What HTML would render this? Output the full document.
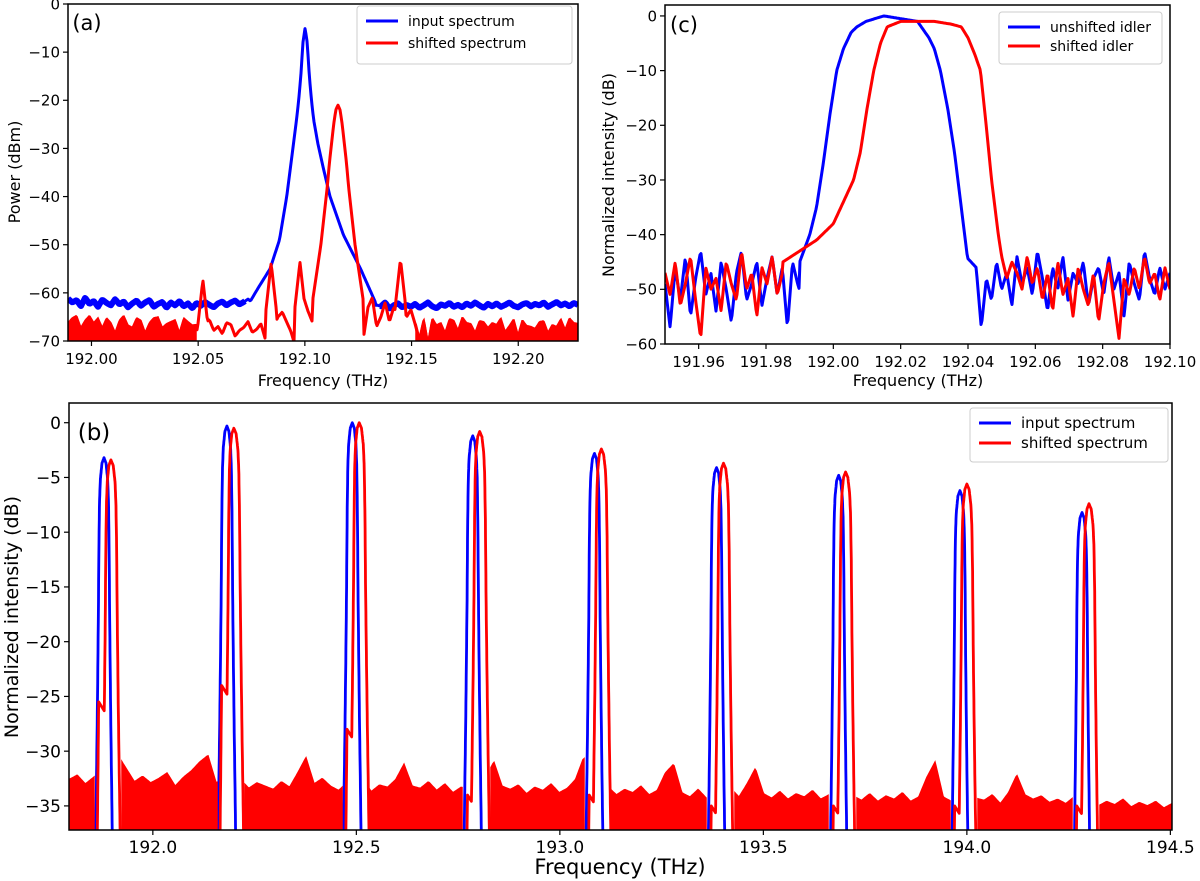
<!DOCTYPE html>
<html><head><meta charset="utf-8">
<style>
html,body{margin:0;padding:0;background:#fff;overflow:hidden;width:1200px;height:881px;}
svg{display:block;font-family:"DejaVu Sans","Liberation Sans",sans-serif;}
</style></head>
<body>
<svg id="fig" width="1200" height="881" viewBox="0 0 1200 881" xmlns="http://www.w3.org/2000/svg">
<rect width="1200" height="881" fill="#fff"/>
<defs>
<clipPath id="clipA"><rect x="68" y="4" width="510" height="337"/></clipPath>
<clipPath id="clipC"><rect x="665" y="5" width="505" height="339"/></clipPath>
<clipPath id="clipB"><rect x="69" y="403" width="1103" height="427"/></clipPath>
</defs>
<g id="panelA"></g>
<g id="panelC"></g>
<g id="panelB"></g>
</svg>
<script>
// ---------- Panel (a) data ----------
const aTicksX = [192.00, 192.05, 192.10, 192.15, 192.20];
const aTickLabelsX = ["192.00","192.05","192.10","192.15","192.20"];
const aTicksY = [0,-10,-20,-30,-40,-50,-60,-70];
const aBlueCenter = 192.1001;
const aBlueOffL = [0,0.001,0.002,0.003,0.004,0.006,0.0086,0.012,0.0164,0.022,0.026];
const aBlueProfL = [-5,-8,-15,-20,-24,-31,-40,-49,-55,-59,-62];
const aBlueOffR = [0,0.001,0.002,0.003,0.004,0.006,0.0085,0.0117,0.018,0.026,0.033];
const aBlueProfR = [-5,-8,-15,-20,-24,-29,-34,-40,-48,-55,-62];
const aRedCenter = 192.1155;
const aRedOff = [0,0.001,0.002,0.003,0.004,0.005,0.006,0.007,0.008,0.009,0.010,0.012];
const aRedProf = [-21,-22,-25,-29,-33,-38,-42,-46,-50,-53,-56,-62];
const aSideF = [192.0522,192.0842,192.0977,192.1448];
const aSideV = [-57.3,-53.8,-53.6,-53];
const aBlueNoise = [-61.2,-62.0,-61.5,-62.8,-61.0,-62.3,-61.7,-62.9,-61.4,-62.1,
-62.6,-61.3,-62.4,-61.8,-63.0,-62.2,-61.6,-62.7,-62.0,-61.5,
-62.9,-62.3,-61.9,-63.1,-62.0,-62.6,-61.7,-62.8,-62.2,-63.2,
-62.1,-62.7,-61.9,-62.5,-63.0,-62.2,-61.8,-62.6,-62.0,-61.6,
-62.4,-61.9,-61.3,-62.0,-61.5,-61.0,-60.8,-61.4,-61.0,-60.6,
-60.0,-59.5,-60.2,-59.0,-58.5,-59.2,-58.0,-57.5,-58.2,-59.5,
-60.5,-61.5,-62.0,-62.6,-61.9,-62.8,-62.3,-63.0,-62.4,-62.9,
-62.1,-63.2,-62.5,-62.8,-62.0,-63.3,-62.6,-62.2,-63.0,-62.5,
-62.9,-62.3,-63.1,-62.6,-62.0,-62.8,-63.2,-62.4,-62.7,-62.1,
-62.9,-62.5,-63.0,-62.2,-62.7,-62.0,-62.6,-63.1,-62.3,-62.8,
-62.2,-62.9,-62.5,-62.0,-62.7,-63.0,-62.4,-62.1,-62.8,-62.3,
-62.6,-62.0,-62.9,-62.4,-61.9,-62.6,-62.2,-62.8,-62.1,-62.5];
const aRedNoise = [-67,-66,-65.5,-68,-66.5,-65.5,-67,-66,-68,-66,
-67,-69,-66.5,-65.5,-67.5,-68,-66,-66.5,-69,-67,
-66,-65.8,-68,-67.2,-66.8,-66.4,-69,-66,-66.8,-67.5,
-67.4,-70,-66.2,-65.6,-67.8,-67,-68.5,-66.2,-66.6,-69,
-67.8,-67.2,-66,-68.2,-67.6,-66.4,-69.5,-66.6,-67,-65,
-64,-66,-68,-71,-63.5,-61,-63.8,-66,-69,-62.5,
-61.5,-64,-70,-63,-60.5,-65,-71,-62,-66.5,-69,
-63,-61,-67,-65,-62,-66,-63,-64.5,-62,-65,
-63.5,-66.5,-70,-66,-71,-66,-67.5,-67,-69,-66.2,
-66.5,-68.5,-65.8,-67,-67.2,-69,-66.6,-66.8,-68,-67,
-67.4,-66,-68.8,-67.6,-66.2,-69.5,-66.4,-67.6,-67.8,-68.2,
-66.8,-66.6,-69,-67.4,-67.8,-66.2,-68.4,-66,-67,-67.2];

// ---------- Panel (c) data ----------
const cTicksX = [191.96,191.98,192.00,192.02,192.04,192.06,192.08,192.10];
const cTickLabelsX = ["191.96","191.98","192.00","192.02","192.04","192.06","192.08","192.10"];
const cTicksY = [0,-10,-20,-30,-40,-50,-60];
const cBlueF = [191.990,191.993,191.995,191.997,191.999,192.001,192.003,192.0053,192.007,192.0097,192.015,192.020,192.025,192.0284,192.030,192.0318,192.034,192.036,192.037,192.039,192.040,192.041];
const cBlueV = [-45,-40,-35,-27,-18,-10,-6,-3,-2,-1,0,-0.5,-1,-4,-6,-10,-17,-25,-30,-40,-45,-50];
const cRedF = [191.985,191.990,191.995,192.000,192.003,192.006,192.008,192.010,192.012,192.014,192.016,192.020,192.025,192.030,192.035,192.038,192.040,192.042,192.0437,192.0454,192.047,192.049,192.051];
const cRedV = [-45,-43,-41,-38,-34,-30,-25,-17,-10,-5,-2,-1,-1,-1,-1.5,-2,-4,-7,-10,-20,-30,-40,-48];
const cBlueNoise = [-49,-57,-46,-52,-44,-55,-48,-43,-51,-47,
-54,-45,-50,-56,-47,-43,-52,-49,-45,-53,
-48,-44,-51,-46,-57,-45,-49,-52,-44,-50,
-47,-53,-45,-48,-43,-51,-46,-49,-47,-45,
-46,-45,-44,-45,-44,-45,-44,-45,-44,-46,
-46,-45,-44,-45,-46,-45,-44,-46,-45,-44,
-45,-46,-57,-48,-52,-45,-50,-47,-53,-44,
-49,-46,-51,-43,-48,-54,-46,-50,-44,-52,
-47,-49,-45,-53,-48,-46,-51,-44,-50,-47,
-55,-45,-49,-52,-43,-48,-51,-46,-50,-47];
const cRedNoise = [-47,-51,-45,-53,-49,-44,-52,-59,-46,-50,
-48,-54,-45,-49,-52,-43,-50,-47,-55,-46,
-49,-44,-51,-47,-53,-45,-50,-48,-43,-52,
-46,-49,-44,-47,-45,-43,-46,-44,-45,-44,
-45,-44,-45,-44,-45,-44,-45,-44,-45,-44,
-45,-44,-45,-44,-45,-44,-45,-44,-45,-44,
-45,-44,-45,-44,-45,-46,-44,-48,-45,-47,
-50,-44,-49,-46,-52,-47,-54,-45,-51,-48,
-55,-46,-50,-53,-47,-56,-49,-45,-52,-59,
-48,-51,-46,-50,-44,-49,-47,-52,-46,-50];

// ---------- Panel (b) data ----------
const bTicksX = [192.0,192.5,193.0,193.5,194.0,194.5];
const bTickLabelsX = ["192.0","192.5","193.0","193.5","194.0","194.5"];
const bTicksY = [0,-5,-10,-15,-20,-25,-30,-35];
const bCenters = [191.880,192.182,192.490,192.786,193.085,193.385,193.685,193.983,194.283];
const bBluePeaks = [-3.2,-0.3,0,-1.2,-2.8,-4.1,-4.8,-6.2,-8.2];
const bRedPeaks = [-3.4,-0.5,0,-0.8,-2.4,-3.7,-4.5,-5.6,-7.4];
const bShift = 0.017;
const bShoulder = [-25.5,-24,-28,-34,-34,-35,-35,-35,-35];
const bPeakOff = [0,0.005,0.009,0.011,0.0125,0.014,0.016,0.018,0.021,0.024];
const bPeakDrop = [0,0.5,2,4,8,15,22,28,36,45];
const bRedNoise = [-32.6,-32.2,-33.0,-32.4,-31.9,-30.9,-30.4,-31.6,-32.8,-32.3,
-32.9,-32.5,-32.0,-33.2,-32.4,-31.8,-31.0,-30.4,-32.9,-32.4,
-33.3,-32.6,-33.4,-32.9,-33.2,-33.5,-32.8,-33.3,-32.0,-30.6,
-33.0,-32.5,-33.2,-33.6,-32.9,-33.4,-32.7,-33.7,-33.1,-33.3,
-32.6,-31.2,-33.2,-33.4,-32.8,-33.6,-33.0,-33.8,-33.3,-33.5,
-32.9,-32.4,-31.0,-33.2,-33.5,-33.1,-33.9,-33.3,-33.6,-33.0,
-33.8,-33.4,-32.6,-30.6,-33.6,-33.9,-33.3,-34.0,-33.5,-33.8,
-33.2,-34.0,-33.6,-32.0,-31.2,-33.8,-34.2,-33.5,-34.3,-33.7,
-34.0,-33.4,-34.2,-33.0,-31.6,-33.9,-34.3,-33.7,-34.4,-33.9,
-34.2,-33.6,-34.4,-34.0,-32.8,-31.8,-34.1,-34.5,-33.9,-34.6,
-34.1,-34.4,-33.8,-34.6,-34.2,-32.4,-31.0,-34.2,-34.6,-34.0,
-34.7,-34.3,-34.5,-34.0,-34.8,-33.8,-32.2,-34.0,-34.4,-34.1,
-34.7,-34.4,-34.8,-34.2,-34.9,-34.5,-35.0,-34.6,-34.9,-34.4,
-35.1,-34.7,-35.0,-34.6,-35.2,-34.8];

const NS = "http://www.w3.org/2000/svg";
function mk(tag, attrs, parent){ const e=document.createElementNS(NS,tag); for(const k in attrs) e.setAttribute(k,attrs[k]); if(parent) parent.appendChild(e); return e; }
function lin(xs, ys, x){
  if(x<=xs[0]) return ys[0]; if(x>=xs[xs.length-1]) return ys[ys.length-1];
  for(let i=1;i<xs.length;i++) if(x<=xs[i]){ const t=(x-xs[i-1])/(xs[i]-xs[i-1]); return ys[i-1]+t*(ys[i]-ys[i-1]); }
}
function noiseAt(arr, f0, f1, f){
  const p=(f-f0)/(f1-f0)*(arr.length-1); const i=Math.floor(p), t=p-i;
  const a=arr[Math.max(0,Math.min(arr.length-1,i))], b=arr[Math.max(0,Math.min(arr.length-1,i+1))];
  return a+(b-a)*t;
}
function axes(g, o){
  const sx=f=>o.x0+(f-o.fmin)/(o.fmax-o.fmin)*(o.x1-o.x0);
  const syRaw=v=>o.y1-(v-o.vmin)/(o.vmax-o.vmin)*(o.y1-o.y0);
  const sy=v=>syRaw(Math.max(v,o.vmin-1.5));
  o.tx.forEach((t,i)=>{
    const x=sx(t);
    const tk=mk("line",{x1:x,x2:x,y1:o.y1,y2:o.y1+5,stroke:"#000","stroke-width":1.2},g);
    
    
    const tl=mk("text",{x:x,y:o.y1+(o.tlOff||8+o.fs),"text-anchor":"middle","font-size":o.fs,fill:"#000"},g);
    tl.textContent=o.txl[i];
    
    
  });
  o.ty.forEach(t=>{
    const y=sy(t);
    const tk=mk("line",{x1:o.x0-5,x2:o.x0,y1:y,y2:y,stroke:"#000","stroke-width":1.2},g);
    
    
    const tl=mk("text",{x:o.x0-8,y:y+o.fs*0.36,"text-anchor":"end","font-size":o.fs,fill:"#000"},g);
    tl.textContent=(t<0?"\u2212":"")+Math.abs(t);
    
    
  });
  return {sx,sy};
}
function frame(g,o){
  const r=mk("rect",{x:o.x0,y:o.y0,width:o.x1-o.x0,height:o.y1-o.y0,fill:"none",stroke:"#000","stroke-width":1.5},g);
  
  
}
function poly(g, pts, color, name, w){
  const p=mk("polyline",{points:pts.map(q=>q[0].toFixed(1)+","+q[1].toFixed(1)).join(" "),fill:"none",stroke:color,"stroke-width":w||2.6,"stroke-linejoin":"round"},g);
  
  
  return p;
}
function fillUnder(g, pts, ybot, color, name){
  const s=pts.map(q=>q[0].toFixed(1)+","+q[1].toFixed(1)).join(" ")+" "+pts[pts.length-1][0]+","+ybot+" "+pts[0][0]+","+ybot;
  const p=mk("polygon",{points:s,fill:color,stroke:color,"stroke-width":1.5},g);
  
  
}
function text(g,x,y,s,fs,name,rot){
  const t=mk("text",{x:x,y:y,"font-size":fs,"text-anchor":"middle",fill:"#000"},g);
  if(rot) t.setAttribute("transform","rotate(-90 "+x+" "+y+")");
  t.textContent=s;
  
  
}
function legend(g,x,y,w,h,items,fs,name){
  const lg=mk("g",{},g);
  
  
  mk("rect",{x:x,y:y,width:w,height:h,rx:3,fill:"#fff","fill-opacity":0.85,stroke:"#ccc","stroke-width":1},lg);
  items.forEach((it,i)=>{
    const yy=y+15+i*(h-14)/items.length;
    const en=mk("g",{},lg);
    
    
    mk("line",{x1:x+9,x2:x+41,y1:yy,y2:yy,stroke:it[1],"stroke-width":3},en);
    const t=mk("text",{x:x+51,y:yy+5,"font-size":fs,fill:"#000"},en);
    t.textContent=it[0];
  });
}

// ===== Panel (a) =====
(function(){
  const g=document.getElementById("panelA");
  const o={x0:68,x1:578,y0:4,y1:341,fmin:191.989,fmax:192.228,vmin:-70,vmax:0,tx:aTicksX,txl:aTickLabelsX,ty:aTicksY,fs:15};
  const {sx,sy}=axes(g,o);
  const pg=mk("g",{"clip-path":"url(#clipA)"},g);
  const blue=[],red=[],bandL=[],bandR=[],redL=[],redR=[];
  for(let x=o.x0;x<=o.x1;x+=1){
    const f=o.fmin+(x-o.x0)/(o.x1-o.x0)*(o.fmax-o.fmin);
    const nb=noiseAt(aBlueNoise,o.fmin,o.fmax,f);
    let vb=nb;
    const db=f-aBlueCenter;
    if(db<0 && -db<=aBlueOffL[aBlueOffL.length-1]) vb=Math.max(vb,lin(aBlueOffL,aBlueProfL,-db));
    if(db>=0 && db<=aBlueOffR[aBlueOffR.length-1]) vb=Math.max(vb,lin(aBlueOffR,aBlueProfR,db));
    blue.push([sx(f),sy(vb)]);
    if(f<192.072) bandL.push([sx(f),sy(nb)]);
    if(f>192.135) bandR.push([sx(f),sy(nb)]);
    const nr=noiseAt(aRedNoise,o.fmin,o.fmax,f);
    let vr=nr;
    const dr=Math.abs(f-aRedCenter);
    if(dr<=aRedOff[aRedOff.length-1]) vr=Math.max(vr,lin(aRedOff,aRedProf,dr));
    aSideF.forEach((sf,i)=>{ const d=Math.abs(f-sf); if(d<0.0025) vr=Math.max(vr,aSideV[i]-d/0.0025*10); });
    red.push([sx(f),sy(vr)]);
    if(f<192.049) redL.push([sx(f),sy(nr+0.8)]);
    if(f>192.152) redR.push([sx(f),sy(nr+0.8)]);
  }
  poly(pg,bandL,"#0000ff","input-noise-band",6);
  poly(pg,bandR,"#0000ff","input-noise-band",6);
  poly(pg,blue,"#0000ff","input-spectrum-line",3);
  fillUnder(pg,redL,o.y1+1,"#ff0000","shifted-noise-floor");
  fillUnder(pg,redR,o.y1+1,"#ff0000","shifted-noise-floor");
  poly(pg,red,"#ff0000","shifted-spectrum-line",3);
  frame(g,o);
  text(g,87,30,"(a)",21,"panel-label-a");
  text(g,323,386,"Frequency (THz)",16,"x-axis-title-a");
  text(g,20,172,"Power (dBm)",16,"y-axis-title-a",true);
  legend(g,357,6,215,58,[["input spectrum","#0000ff"],["shifted spectrum","#ff0000"]],14,"legend-a");
})();

// ===== Panel (c) =====
(function(){
  const g=document.getElementById("panelC");
  const o={x0:665,x1:1170,y0:5,y1:344,fmin:191.95,fmax:192.10,vmin:-60,vmax:2,tx:cTicksX,txl:cTickLabelsX,ty:cTicksY,fs:15};
  const {sx,sy}=axes(g,o);
  const pg=mk("g",{"clip-path":"url(#clipC)"},g);
  const blue=[],red=[];
  for(let x=o.x0;x<=o.x1;x+=1){
    const f=o.fmin+(x-o.x0)/(o.x1-o.x0)*(o.fmax-o.fmin);
    let vb=noiseAt(cBlueNoise,o.fmin,o.fmax,f);
    if(f>=cBlueF[0]&&f<=cBlueF[cBlueF.length-1]) vb=Math.max(vb,lin(cBlueF,cBlueV,f));
    blue.push([sx(f),sy(vb)]);
    let vr=noiseAt(cRedNoise,o.fmin,o.fmax,f);
    if(f>=cRedF[0]&&f<=cRedF[cRedF.length-1]) vr=Math.max(vr,lin(cRedF,cRedV,f));
    red.push([sx(f),sy(vr)]);
  }
  poly(pg,blue,"#0000ff","unshifted-idler-line",3);
  poly(pg,red,"#ff0000","shifted-idler-line",3);
  frame(g,o);
  text(g,684,32,"(c)",21,"panel-label-c");
  text(g,918,386,"Frequency (THz)",16,"x-axis-title-c");
  text(g,614,175,"Normalized intensity (dB)",16,"y-axis-title-c",true);
  legend(g,999,12,163,52,[["unshifted idler","#0000ff"],["shifted idler","#ff0000"]],14,"legend-c");
})();

// ===== Panel (b) =====
(function(){
  const g=document.getElementById("panelB");
  const o={x0:69,x1:1172,y0:403,y1:830,fmin:191.794,fmax:194.504,vmin:-37.2,vmax:1.8,tx:bTicksX,txl:bTickLabelsX,ty:bTicksY,fs:17,tlOff:23};
  const {sx,sy}=axes(g,o);
  const pg=mk("g",{"clip-path":"url(#clipB)"},g);
  let seg=[];
  const segs=[];
  for(let x=o.x0;x<=o.x1;x+=1){
    const f=o.fmin+(x-o.x0)/(o.x1-o.x0)*(o.fmax-o.fmin);
    const inWin=bCenters.some(c=>f>c-0.024&&f<c+bShift+0.026);
    if(inWin){ if(seg.length) segs.push(seg); seg=[]; continue; }
    seg.push([x,sy(noiseAt(bRedNoise,o.fmin,o.fmax,f))]);
  }
  if(seg.length) segs.push(seg);
  bCenters.forEach((c,i)=>{
    const pts=[];
    for(let df=-0.026;df<=0.0261;df+=0.0004){
      const v=bBluePeaks[i]-lin(bPeakOff,bPeakDrop,Math.abs(df));
      pts.push([sx(c+df),sy(v)]);
    }
    poly(pg,pts,"#0000ff","input-peak-"+(i+1),2.8);
  });
  segs.forEach(s=>fillUnder(pg,s,o.y1+1,"#ff0000","shifted-noise-floor"));
  bCenters.forEach((c,i)=>{
    const cr=c+bShift;
    const pts=[];
    for(let df=-0.04;df<=0.0301;df+=0.0004){
      const d=df<0?Math.abs(df):df/1.12;
      let v=bRedPeaks[i]-lin(bPeakOff,bPeakDrop,d);
      if(df<-0.012&&df>-0.034){ const ds=Math.abs(df+0.03); v=Math.max(v,bShoulder[i]-(df<-0.03?ds/0.004*14:ds*60)); }
      pts.push([sx(cr+df),sy(v)]);
    }
    poly(pg,pts,"#ff0000","shifted-peak-"+(i+1),2.8);
  });
  frame(g,o);
  text(g,94,440,"(b)",23,"panel-label-b");
  text(g,620,874,"Frequency (THz)",21,"x-axis-title-b");
  text(g,18,617,"Normalized intensity (dB)",19,"y-axis-title-b",true);
  legend(g,970,408,198,54,[["input spectrum","#0000ff"],["shifted spectrum","#ff0000"]],15,"legend-b");
})();
</script>
</body></html>
